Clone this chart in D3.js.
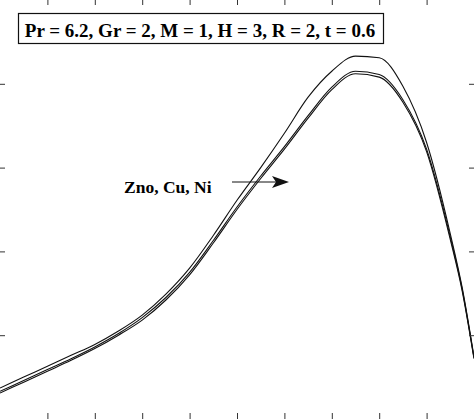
<!DOCTYPE html>
<html><head><meta charset="utf-8">
<script src="https://cdn.jsdelivr.net/npm/d3@7"></script>
<style>body{margin:0;background:#fff}svg{display:block}</style></head>
<body><svg width="474" height="419"></svg>
<script>
const xs = [0,0.5,1,1.5,2,2.5,3,3.5,4,4.5,5,5.5,6,6.5,7,7.5,8,8.5,9,9.5,9.75,10];
const ni  = [0.31,0.44,0.57,0.70,0.84,1.00,1.18,1.42,1.72,2.10,2.50,2.87,3.22,3.59,3.93,4.12,4.08,3.78,3.19,2.14,1.53,0.72];
const cu  = [0.33,0.46,0.59,0.72,0.86,1.02,1.21,1.45,1.75,2.13,2.53,2.90,3.25,3.62,3.96,4.15,4.11,3.81,3.22,2.17,1.55,0.73];
const zno = [0.37,0.50,0.63,0.76,0.89,1.05,1.24,1.49,1.80,2.19,2.61,3.00,3.41,3.84,4.15,4.33,4.31,3.97,3.30,2.21,1.57,0.74];
const xTicks = [1,2,3,4,5,6,7,8,9];
const yTicks = [1,2,3,4];
const svg = d3.select("svg");
const x = d3.scaleLinear().domain([0,10]).range([0,474]);
const y = d3.scaleLinear().domain([0,5]).range([419,0]);
const line = d3.line().curve(d3.curveMonotoneX).x((d,i)=>x(xs[i])).y(d=>y(d));
[zno,cu,ni].forEach(s=>svg.append("path").attr("d",line(s)).attr("fill","none").attr("stroke","#111").attr("stroke-width",1.1));
svg.append("g").call(d3.axisBottom(x).tickValues(xTicks).tickSize(5).tickFormat("")).call(g=>g.select(".domain").remove());
svg.append("g").attr("transform","translate(0,419)").call(d3.axisTop(x).tickValues(xTicks).tickSize(6).tickFormat("")).call(g=>g.select(".domain").remove());
svg.append("g").call(d3.axisRight(y).tickValues(yTicks).tickSize(5).tickFormat("")).call(g=>g.select(".domain").remove());
svg.append("g").attr("transform","translate(474,0)").call(d3.axisLeft(y).tickValues(yTicks).tickSize(5).tickFormat("")).call(g=>g.select(".domain").remove());
svg.selectAll(".tick line").attr("stroke","#333");
svg.append("rect").attr("x",18.5).attr("y",13.5).attr("width",365).attr("height",30).attr("fill","#fff").attr("stroke","#111").attr("stroke-width",1.2);
svg.append("text").attr("x",200).attr("y",37).attr("text-anchor","middle").attr("font-family","Liberation Serif").attr("font-weight","bold").attr("font-size",19).text("Pr = 6.2, Gr = 2, M = 1, H = 3, R = 2, t = 0.6");
svg.append("text").attr("x",124).attr("y",193).attr("font-family","Liberation Serif").attr("font-weight","bold").attr("font-size",17.5).text("Zno, Cu, Ni");
svg.append("line").attr("x1",232).attr("y1",182).attr("x2",280).attr("y2",182).attr("stroke","#111").attr("stroke-width",1);
svg.append("path").attr("d","M289,182 L272,176 L276,182 L272,188 Z").attr("fill","#111");
</script></body></html>
